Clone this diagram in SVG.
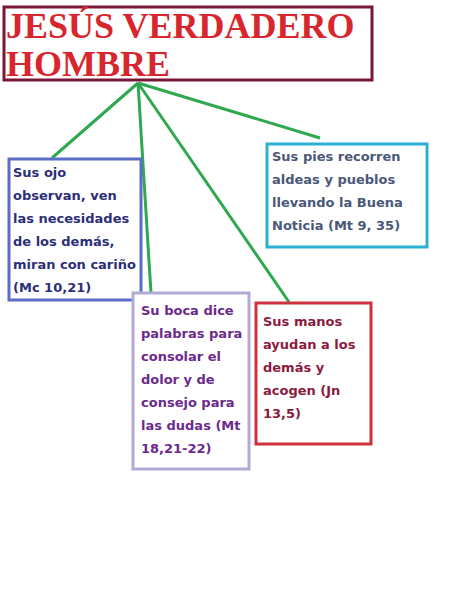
<svg xmlns="http://www.w3.org/2000/svg" width="465" height="604" viewBox="0 0 465 604">
<style>
.t{font-family:"Liberation Serif",serif;font-weight:bold;font-size:36px;fill:#d8262e}
.b{font-family:"DejaVu Sans",sans-serif;font-weight:bold;font-size:13px}
.box{fill:#fff;stroke-width:3}
.c{stroke:#2fa84f;stroke-width:3;fill:none}
</style>
<rect width="465" height="604" fill="#fff"/>
<g id="connectors">
<line class="c" x1="138" y1="83" x2="52" y2="158"/>
<line class="c" x1="138" y1="83" x2="151" y2="293"/>
<line class="c" x1="138" y1="83" x2="289" y2="302"/>
<line class="c" x1="138" y1="83" x2="320" y2="138"/>
</g>
<g id="title">
<rect x="4" y="7" width="368" height="73" fill="#fff" stroke="#7a1638" stroke-width="3"/>
<text class="t" x="6" y="38">JESÚS VERDADERO</text>
<text class="t" x="6" y="76">HOMBRE</text>
</g>
<g id="ojos">
<rect class="box" x="9" y="159" width="132" height="141" stroke="#5b6cc6"/>
<text class="b" fill="#2c2f78"><tspan x="13" y="177">Sus ojo</tspan><tspan x="13" y="200">observan, ven</tspan><tspan x="13" y="223">las necesidades</tspan><tspan x="13" y="246">de los demás,</tspan><tspan x="13" y="269">miran con cariño</tspan><tspan x="13" y="292">(Mc 10,21)</tspan></text>
</g>
<g id="pies">
<rect class="box" x="267" y="144" width="160" height="103" stroke="#2bb0d2"/>
<text class="b" fill="#4a5878"><tspan x="272" y="161">Sus pies recorren</tspan><tspan x="272" y="184">aldeas y pueblos</tspan><tspan x="272" y="207">llevando la Buena</tspan><tspan x="272" y="230">Noticia (Mt 9, 35)</tspan></text>
</g>
<g id="boca">
<rect class="box" x="133" y="293" width="116" height="176" stroke="#b2aad2"/>
<text class="b" fill="#6b2a8c"><tspan x="141" y="315">Su boca dice</tspan><tspan x="141" y="338">palabras para</tspan><tspan x="141" y="361">consolar el</tspan><tspan x="141" y="384">dolor y de</tspan><tspan x="141" y="407">consejo para</tspan><tspan x="141" y="430">las dudas (Mt</tspan><tspan x="141" y="453">18,21-22)</tspan></text>
</g>
<g id="manos">
<rect class="box" x="256" y="303" width="115" height="141" stroke="#d0303e"/>
<text class="b" fill="#8c1a3c"><tspan x="263" y="326">Sus manos</tspan><tspan x="263" y="349">ayudan a los</tspan><tspan x="263" y="372">demás y</tspan><tspan x="263" y="395">acogen (Jn</tspan><tspan x="263" y="418">13,5)</tspan></text>
</g>
</svg>
